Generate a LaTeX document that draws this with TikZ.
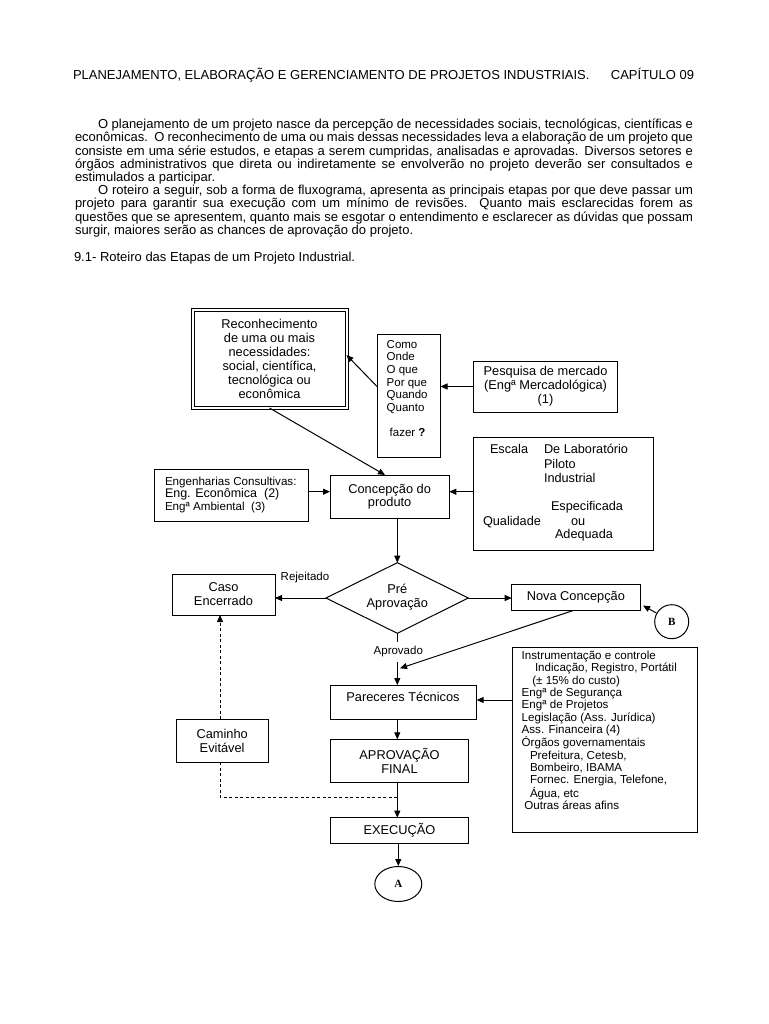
\documentclass[tikz,border=0pt]{standalone}
\usepackage{fontspec}
\setmainfont{Liberation Sans}
\newfontfamily\tnr{Liberation Serif}
\usetikzlibrary{arrows.meta,calc,shapes.geometric}
\newcommand{\setfs}[2]{\fontsize{#1}{#2}\selectfont}
\begin{document}
\begin{tikzpicture}[x=1pt,y=-1pt,
 box/.style={draw, line width=1pt, inner sep=0pt, outer sep=0pt, align=center, font=\setfs{12.8}{13.9}},
 arr/.style={line width=1pt, -{Triangle[length=7pt,width=6pt]}},
 ln/.style={line width=1pt},
 dsh/.style={line width=1pt, dash pattern=on 3pt off 2.5pt},
 lbl/.style={inner sep=0pt, outer sep=0pt},
 one/.style={lbl, text height=9.2pt, text depth=0pt, font=\setfs{12.8}{14}},
 etx/.style={lbl, anchor=west, text height=9.2pt, text depth=0pt, font=\setfs{12.7}{14}},
 stx/.style={lbl, anchor=west, text height=8.4pt, text depth=0pt, font=\setfs{11.6}{13}},
 hdr/.style={lbl, font=\setfs{13}{15}}
]
\fill[white] (0,0) rectangle (768,1024);
\useasboundingbox (0,0) rectangle (768,1024);

% ---------- page text ----------
\node[hdr, anchor=base west] (head) at (73,79.7) {PLANEJAMENTO, ELABORAÇÃO E GERENCIAMENTO DE PROJETOS INDUSTRIAIS.};
\node[hdr, anchor=base east] (cap) at (694,79.7) {CAPÍTULO 09};

\node[lbl, anchor=base west] (txt) at (75,128.7) {\parbox[t]{618pt}{\setfs{13}{13.2}\setlength{\parindent}{23pt}%
O planejamento de um projeto nasce da percepção de necessidades sociais, tecnológicas, científicas e\linebreak
econômicas.\ \ O reconhecimento de uma ou mais dessas necessidades leva a elaboração de um projeto que\linebreak
consiste em uma série estudos, e etapas a serem cumpridas, analisadas e aprovadas. Diversos setores e\linebreak
órgãos administrativos que direta ou indiretamente se envolverão no projeto deverão ser consultados e\linebreak
estimulados a participar.\par
O roteiro a seguir, sob a forma de fluxograma, apresenta as principais etapas por que deve passar um\linebreak
projeto para garantir sua execução com um mínimo de revisões. Quanto mais esclarecidas forem as\linebreak
questões que se apresentem, quanto mais se esgotar o entendimento e esclarecer as dúvidas que possam\linebreak
surgir, maiores serão as chances de aprovação do projeto.}};

\node[hdr, anchor=base west] (sec) at (74,261.7) {9.1- Roteiro das Etapas de um Projeto Industrial.};

% ---------- boxes ----------
\node[box, double, double distance=2pt, minimum width=154pt, minimum height=98pt] (recon) at (269.5,359)
 {Reconhecimento\\de uma ou mais\\necessidades:\\social, científica,\\tecnológica ou\\econômica};

\node[box, minimum width=63.5pt, minimum height=123pt] (como) at (408.75,395.5) {};
\node[lbl, anchor=west, align=left, font=\setfs{11.5}{12.6}] (comotxt) at (386.7,388.4)
 {Como\\Onde\\O que\\Por que\\Quando\\Quanto\\[12.6pt]\hspace*{3pt}fazer \textbf{?}};

\node[box, minimum width=144.4pt, minimum height=51pt] (pesq) at (545.5,386.5)
 {Pesquisa de mercado\\(Engª Mercadológica)\\(1)};

\node[box, minimum width=180pt, minimum height=112.3pt] (esc) at (563.3,493.85) {};
\node[etx] (es1) at (490,449.3) {Escala};
\node[etx] (es2) at (544,449.3) {De Laboratório};
\node[etx] (es3) at (544,464) {Piloto};
\node[etx] (es4) at (544,478) {Industrial};
\node[etx] (es5) at (551,506) {Especificada};
\node[etx] (es6) at (483,520.7) {Qualidade};
\node[etx] (es7) at (571,520.7) {ou};
\node[etx] (es8) at (555,534) {Adequada};

\node[box, minimum width=154.3pt, minimum height=52.4pt] (eng) at (231.15,495.5) {};
\node[stx] (en1) at (165,481.7) {Engenharias Consultivas:};
\node[stx, text height=9pt, font=\setfs{12.5}{14}] (en2) at (165,493.3) {Eng. Econômica\ \ (2)};
\node[stx] (en3) at (165,506.7) {Engª Ambiental\ \ (3)};

\node[box, minimum width=119.3pt, minimum height=43.3pt] (conc) at (389.65,496.65) {Concepção do\\produto};

% diamond
\coordinate (dT) at (397.3,562.7);
\coordinate (dB) at (397.3,633.3);
\coordinate (dL) at (326,598);
\coordinate (dR) at (468.3,598);
\draw[line width=1pt] (dT) -- (dR) -- (dB) -- (dL) -- cycle;
\node[lbl, align=center, font=\setfs{12.8}{14}] (dia) at (397.3,597) {Pré\\Aprovação};

\node[box, minimum width=103pt, minimum height=41pt] (caso) at (223.5,594.5) {Caso\\Encerrado};
\node[box, minimum width=128.3pt, minimum height=26.5pt] (nova) at (575.85,597.45) {Nova Concepção};
\node[draw, circle, line width=1pt, minimum size=34pt, inner sep=0pt, font=\tnr\bfseries\setfs{11}{12}] (B) at (671.7,621.7) {B};

\node[one, font=\setfs{11.5}{13}, text height=8.3pt] (rej) at (305,576) {Rejeitado};
\node[one, font=\setfs{11.5}{13}, text height=8.3pt] (apv) at (398.3,650.7) {Aprovado};

\node[box, minimum width=146pt, minimum height=34.3pt] (par) at (403.7,702.15) {};
\node[one] (partxt) at (403,697.3) {Pareceres Técnicos};

\node[box, minimum width=184.3pt, minimum height=185.4pt] (instr) at (604.85,740) {};
\node[lbl, anchor=west, align=left, font=\setfs{11.6}{12.3}] (instrtxt) at (521.7,730.5)
 {Instrumentação e controle\\\hspace*{13.3pt}Indicação, Registro, Portátil\\\hspace*{10.6pt}(± 15\% do custo)\\Engª de Segurança\\Engª de Projetos\\Legislação (Ass. Jurídica)\\Ass. Financeira (4)\\Órgãos governamentais\\\hspace*{8.3pt}Prefeitura, Cetesb,\\\hspace*{8.3pt}Bombeiro, IBAMA\\\hspace*{8.3pt}Fornec. Energia, Telefone,\\\hspace*{8.3pt}Água, etc\\\hspace*{2.6pt}Outras áreas afins};

\node[box, minimum width=137.6pt, minimum height=43pt] (apf) at (399.5,760.8) {APROVAÇÃO\\FINAL};
\node[box, minimum width=137.6pt, minimum height=25.6pt] (exe) at (399.5,830.5) {EXECUÇÃO};
\node[draw, ellipse, line width=1pt, minimum width=47pt, minimum height=35pt, inner sep=0pt, font=\tnr\bfseries\setfs{11}{12}] (A) at (398.3,884) {A};
\node[box, minimum width=92.3pt, minimum height=43pt] (cam) at (222.15,740.8) {Caminho\\Evitável};

% ---------- connectors ----------
\coordinate (btip) at (643,605.5);
\coordinate (ntip) at (400,668.3);
\coordinate (dj) at (397.3,797.3);

\draw[arr] (pesq.west) -- (pesq.west -| como.east);
\draw[arr] (pesq.west -| como.west) -- ($(recon.east)+(0,-4)$);
\draw[arr] (recon.south) -- ($(conc.north)+(-4.6,0)$);
\draw[arr] ($(eng.east)+(0,-3.8)$) coordinate (ea) -- (ea -| conc.west);
\draw[arr] ($(esc.west)+(0,-2.1)$) coordinate (eb) -- (eb -| conc.east);
\draw[arr] (conc.south -| dT) -- (dT);
\draw[arr] (dL) -- (dL -| caso.east);
\draw[arr] (dR) -- (dR -| nova.west);
\draw[arr] (B) -- (btip);
\draw[ln] (dB) -- ++(0,8.4);
\draw[arr] ($(dB)+(0,28.4)$) -- (par.north -| dB);
\draw[arr] ($(nova.south)+(-3.2,0)$) -- (ntip);
\draw[arr] ($(instr.west)+(0,-40)$) coordinate (ia) -- (ia -| par.east);
\draw[arr] (par.south -| dB) -- (apf.north -| dB);
\draw[arr] (apf.south -| dB) -- (exe.north -| dB);
\draw[arr] (exe.south -| A) -- (A);
\draw[dsh, -{Triangle[length=7pt,width=6pt]}] ($(cam.north)+(-2.15,0)$) coordinate (k1) -- (k1 |- caso.south);
\draw[dsh] (k1 |- cam.south) -- (k1 |- dj) -- (dj);
\end{tikzpicture}
\end{document}
